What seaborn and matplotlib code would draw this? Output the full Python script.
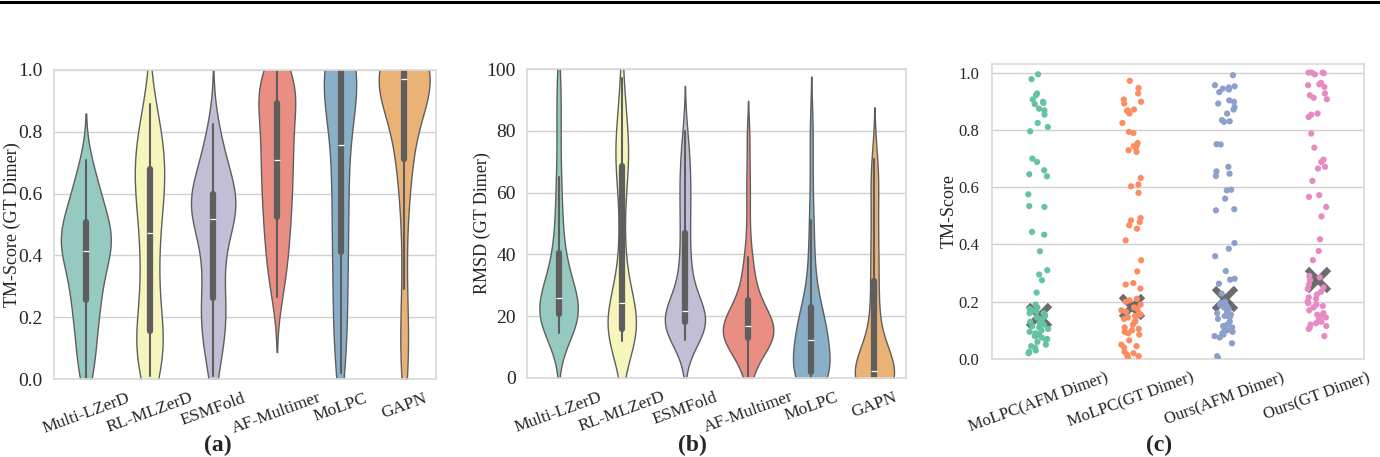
import numpy as np
import pandas as pd
import matplotlib
matplotlib.use("Agg")
import matplotlib.pyplot as plt
import seaborn as sns
from matplotlib.lines import Line2D

# ---------------- data ----------------
methods = ["Multi-LZerD", "RL-MLZerD", "ESMFold", "AF-Multimer", "MoLPC", "GAPN"]

tm_multi_lzerd = [0.00, 0.03, 0.06, 0.09, 0.12, 0.15, 0.18, 0.20, 0.22, 0.24,
                  0.26, 0.28, 0.30, 0.32, 0.335, 0.35, 0.365, 0.38, 0.395, 0.41,
                  0.42, 0.43, 0.44, 0.45, 0.455, 0.46, 0.47, 0.48, 0.49, 0.505,
                  0.52, 0.535, 0.55, 0.565, 0.58, 0.60, 0.62, 0.645, 0.675, 0.71]
tm_rl_mlzerd = [0.01, 0.03, 0.05, 0.065, 0.08, 0.095, 0.105, 0.115, 0.125, 0.139,
                0.16, 0.19, 0.22, 0.26, 0.30, 0.33, 0.36, 0.39, 0.42, 0.455,
                0.49, 0.52, 0.545, 0.565, 0.585, 0.605, 0.625, 0.64, 0.66, 0.675,
                0.69, 0.705, 0.72, 0.74, 0.76, 0.78, 0.80, 0.83, 0.86, 0.89]
tm_esmfold = [0.01, 0.05, 0.09, 0.12, 0.145, 0.17, 0.19, 0.21, 0.225, 0.239,
              0.27, 0.30, 0.33, 0.36, 0.39, 0.415, 0.44, 0.465, 0.49, 0.513,
              0.52, 0.53, 0.54, 0.55, 0.56, 0.565, 0.57, 0.58, 0.59, 0.597,
              0.61, 0.625, 0.64, 0.66, 0.68, 0.70, 0.725, 0.75, 0.785, 0.825]
tm_af_multimer = [0.265, 0.30, 0.335, 0.365, 0.39, 0.415, 0.44, 0.465, 0.49, 0.51,
                  0.53, 0.55, 0.57, 0.59, 0.61, 0.63, 0.65, 0.665, 0.685, 0.70,
                  0.72, 0.74, 0.76, 0.775, 0.79, 0.81, 0.83, 0.85, 0.87, 0.89,
                  0.905, 0.92, 0.93, 0.94, 0.95, 0.96, 0.97, 0.98, 0.99, 1.0]
tm_molpc = [0.02, 0.06, 0.10, 0.14, 0.18, 0.22, 0.26, 0.30, 0.345, 0.3875,
            0.42, 0.455, 0.49, 0.525, 0.56, 0.595, 0.63, 0.665, 0.70, 0.743,
            0.77, 0.80, 0.83, 0.86, 0.89, 0.92, 0.945, 0.965, 0.985, 1.0,
            1.0, 1.0, 1.0, 1.0, 1.0, 1.0, 1.0, 1.0, 1.0, 1.0]
tm_gapn = [0.02, 0.07, 0.13, 0.19, 0.29, 0.42, 0.53, 0.61, 0.66, 0.694,
           0.72, 0.75, 0.78, 0.81, 0.84, 0.87, 0.89, 0.915, 0.94, 0.969,
           0.972, 0.975, 0.978, 0.981, 0.984, 0.987, 0.99, 0.993, 0.996, 1.0,
           1.0, 1.0, 1.0, 1.0, 1.0, 1.0, 1.0, 1.0, 1.0, 1.0]

# (b) RMSD (GT Dimer)
rmsd_multi_lzerd = [14.5, 14.7, 15.0, 15.3, 15.7, 16.2, 16.8, 17.6, 18.8, 20.2,
                    20.7, 21.2, 21.8, 22.3, 22.8, 23.3, 23.8, 24.3, 24.8, 25.3,
                    26.2, 27.2, 28.3, 29.5, 30.8, 32.2, 33.7, 35.4, 37.5, 39.9,
                    42.5, 46, 50, 55, 60, 65, 74, 82, 90, 97]
rmsd_rl_mlzerd = [12, 12.5, 13, 13.4, 13.8, 14.2, 14.5, 14.8, 15.1, 15.4,
                  16.1, 16.8, 17.5, 18.3, 19.1, 19.9, 20.7, 21.5, 22.3, 23.2,
                  25.5, 28, 31, 35, 40, 46, 53, 59, 64, 68.2,
                  69.5, 71, 72.5, 74, 76, 78, 81, 85, 90, 97]
rmsd_esmfold = [12.3, 13.2, 14.0, 14.7, 15.3, 15.9, 16.4, 16.9, 17.4, 17.8,
                18.1, 18.5, 18.8, 19.1, 19.4, 19.7, 20.0, 20.3, 20.6, 21.0,
                22.5, 24.5, 26.5, 28.5, 31, 33.5, 36.5, 39.5, 42.5, 46.1,
                50, 53, 56, 59, 62, 65, 68, 71, 75, 80]
rmsd_af_multimer = [0.3, 3.5, 6, 7.8, 9.2, 10.2, 11, 11.6, 12.1, 12.6,
                    13.0, 13.4, 13.8, 14.2, 14.6, 15.0, 15.4, 15.8, 16.2, 16.5,
                    17.2, 17.9, 18.6, 19.4, 20.2, 21, 21.9, 22.8, 23.7, 24.7,
                    26.5, 28.5, 31, 34, 37, 39, 47, 57, 66, 78]
rmsd_molpc = [0.0, 0.1, 0.2, 0.3, 0.4, 0.5, 0.6, 0.7, 0.85, 1.0,
              2.2, 3.4, 4.6, 5.8, 7, 8.2, 9.3, 10.3, 11.1, 11.9,
              12.8, 13.8, 14.8, 15.8, 16.8, 17.8, 18.8, 19.9, 21.1, 22.3,
              24.5, 27, 30, 34, 39, 45, 51, 60, 72, 83]
rmsd_gapn = [0.0, 0.03, 0.06, 0.09, 0.12, 0.15, 0.18, 0.21, 0.25, 0.3,
             0.45, 0.6, 0.75, 0.9, 1.05, 1.2, 1.35, 1.5, 1.65, 1.8,
             3, 4.5, 6.5, 9, 12, 15, 18.5, 22, 26, 30.4,
             34, 38, 42, 46.5, 51, 56, 61, 65, 68, 71]

# (c) TM-Score strip data
groups_c = ["MoLPC(AFM Dimer)", "MoLPC(GT Dimer)", "Ours(AFM Dimer)", "Ours(GT Dimer)"]
tm_molpc_afm = [0.994, 0.977, 0.927, 0.921, 0.906, 0.898, 0.894, 0.89, 0.874, 0.868, 0.853,
                0.824, 0.81, 0.795, 0.70, 0.688, 0.659, 0.645, 0.638, 0.575, 0.534, 0.531,
                0.444, 0.434, 0.376, 0.31, 0.295, 0.275, 0.232,
                0.19, 0.18, 0.175, 0.17, 0.165, 0.16, 0.16, 0.155, 0.15, 0.145, 0.14, 0.135,
                0.13, 0.125, 0.12, 0.115, 0.11, 0.105, 0.10, 0.095, 0.09, 0.085, 0.08, 0.08,
                0.075, 0.07, 0.065, 0.06, 0.05, 0.045, 0.04, 0.03, 0.025, 0.02]
tm_molpc_gt = [0.971, 0.946, 0.927, 0.906, 0.898, 0.892, 0.871, 0.868, 0.866, 0.857, 0.824,
               0.793, 0.789, 0.754, 0.746, 0.743, 0.738, 0.729, 0.723, 0.632, 0.609, 0.603,
               0.58, 0.492, 0.484, 0.478, 0.467, 0.455, 0.414, 0.345, 0.306, 0.265, 0.26,
               0.246, 0.21, 0.205, 0.2, 0.19, 0.18, 0.175, 0.17, 0.165, 0.16, 0.155, 0.15,
               0.145, 0.14, 0.135, 0.13, 0.12, 0.11, 0.105, 0.1, 0.095, 0.09, 0.085, 0.065,
               0.05, 0.045, 0.04, 0.025, 0.02, 0.015, 0.01, 0.005]
tm_ours_afm = [0.991, 0.956, 0.952, 0.948, 0.944, 0.941, 0.932, 0.903, 0.898, 0.892, 0.88,
               0.871, 0.857, 0.834, 0.83, 0.828, 0.75, 0.749, 0.671, 0.655, 0.647, 0.639,
               0.591, 0.589, 0.56, 0.523, 0.519, 0.405, 0.385, 0.359, 0.307, 0.28, 0.277,
               0.263, 0.228, 0.2, 0.195, 0.19, 0.185, 0.18, 0.175, 0.17, 0.165, 0.16, 0.155,
               0.15, 0.145, 0.14, 0.13, 0.12, 0.115, 0.11, 0.105, 0.1, 0.095, 0.09, 0.085,
               0.08, 0.075, 0.055, 0.01, 0.005]
tm_ours_gt = [1.0, 1.0, 1.0, 0.998, 0.994, 0.964, 0.959, 0.956, 0.95, 0.927, 0.921, 0.912,
              0.907, 0.857, 0.853, 0.845, 0.787, 0.738, 0.696, 0.688, 0.671, 0.665, 0.622,
              0.572, 0.566, 0.531, 0.498, 0.418, 0.377, 0.345,
              0.29, 0.285, 0.275, 0.26, 0.25, 0.245, 0.235, 0.225, 0.215, 0.21, 0.2, 0.195,
              0.19, 0.185, 0.18, 0.17, 0.16, 0.155, 0.15, 0.145, 0.14, 0.13, 0.125, 0.12,
              0.115, 0.11, 0.105, 0.08]
marker_scores = [0.15, 0.18, 0.21, 0.277]

# ---------------- tables ----------------
tm_lists = [tm_multi_lzerd, tm_rl_mlzerd, tm_esmfold, tm_af_multimer, tm_molpc, tm_gapn]
rmsd_lists = [rmsd_multi_lzerd, rmsd_rl_mlzerd, rmsd_esmfold, rmsd_af_multimer, rmsd_molpc, rmsd_gapn]
strip_lists = [tm_molpc_afm, tm_molpc_gt, tm_ours_afm, tm_ours_gt]

df_a = pd.DataFrame([(m, v) for m, vals in zip(methods, tm_lists) for v in vals],
                    columns=["method", "score"])
df_b = pd.DataFrame([(m, v) for m, vals in zip(methods, rmsd_lists) for v in vals],
                    columns=["method", "rmsd"])
df_c = pd.DataFrame([(g, v) for g, vals in zip(groups_c, strip_lists) for v in vals],
                    columns=["group", "score"])
df_m = pd.DataFrame({"group": groups_c, "score": marker_scores})

# ---------------- style ----------------
sns.set_theme(style="whitegrid")
plt.rcParams["font.family"] = ["Liberation Serif", "DejaVu Serif"]
plt.rcParams["axes.edgecolor"] = "#d9d9d9"
plt.rcParams["grid.color"] = "#d0d0d0"

W, H = 1380, 457
fig = plt.figure(figsize=(W / 100, H / 100), dpi=100)


def box(l, t, r, b):
    return [l / W, 1 - b / H, (r - l) / W, (b - t) / H]


ax1 = fig.add_axes(box(54, 70, 436, 379))
ax2 = fig.add_axes(box(527, 69, 906, 378))
ax3 = fig.add_axes(box(992, 64, 1364, 359))

vkw = dict(palette="Set3", legend=False, linewidth=1.0, linecolor="#5e5e5e", common_norm=True)

sns.violinplot(data=df_a, x="method", y="score", hue="method", ax=ax1, bw_adjust=0.85, **vkw)
ax1.set_ylim(0, 1)
ax1.set_yticks(np.arange(0, 1.01, 0.2))
ax1.set_yticklabels([f"{v:.1f}" for v in np.arange(0, 1.01, 0.2)])
ax1.set_ylabel("TM-Score (GT Dimer)", fontsize=13)
ax1.yaxis.set_label_coords(-0.086, 0.5)

sns.violinplot(data=df_b, x="method", y="rmsd", hue="method", ax=ax2, bw_adjust=0.75, **vkw)
ax2.set_ylim(0, 100)
ax2.set_yticks(np.arange(0, 101, 20))
ax2.set_ylabel("RMSD (GT Dimer)", fontsize=13)
ax2.yaxis.set_label_coords(-0.095, 0.5)

for ax in (ax1, ax2):
    ax.set_xlabel("")
    ax.tick_params(axis="y", labelsize=14, pad=2)
    ax.tick_params(axis="x", labelsize=12.5, rotation=20, pad=2)
    ax.grid(axis="x", visible=False)

sns.stripplot(data=df_c, x="group", y="score", hue="group", palette="Set2", legend=False,
              size=4.5, jitter=0.11, ax=ax3)
sns.pointplot(data=df_m, x="group", y="score", ax=ax3, color="#3a3a3a", markers="x",
              linestyle="none", markersize=16, markeredgewidth=4.5, alpha=0.75, errorbar=None)
ax3.set_ylim(0, 1.03)
ax3.set_yticks(np.arange(0, 1.01, 0.2))
ax3.set_yticklabels([f"{v:.1f}" for v in np.arange(0, 1.01, 0.2)])
ax3.set_xlabel("")
ax3.set_ylabel("TM-Score", fontsize=13)
ax3.yaxis.set_label_coords(-0.091, 0.5)
ax3.tick_params(axis="y", labelsize=12, pad=3)
ax3.tick_params(axis="x", labelsize=12, rotation=20, pad=2)
ax3.grid(axis="x", visible=False)

for ax in (ax1, ax2, ax3):
    for s in ax.spines.values():
        s.set_color("#d9d9d9")
        s.set_linewidth(1.2)

# sub-figure captions
for txt, x in (("(a)", 218), ("(b)", 692), ("(c)", 1159)):
    fig.text(x / W, 1 - 445 / H, txt, ha="center", va="center", fontsize=17, fontweight="bold")

# top rule
fig.add_artist(Line2D([0, 1], [1 - 2 / H, 1 - 2 / H], color="black", linewidth=2.2,
                      transform=fig.transFigure))

fig.savefig("out.png", dpi=100)
